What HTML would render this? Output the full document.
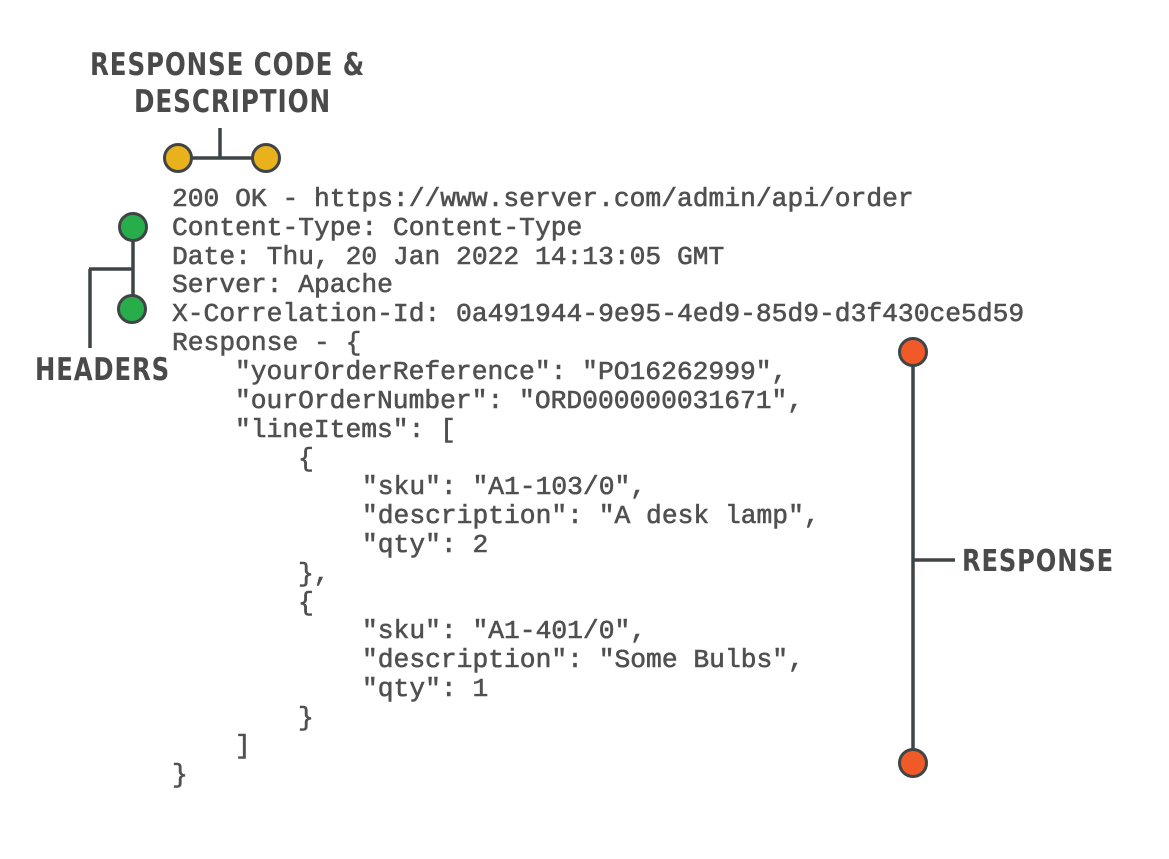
<!DOCTYPE html>
<html><head><meta charset="utf-8"><style>
html,body{margin:0;padding:0;background:#fff;}
svg{display:block;}
.c{font-family:"Liberation Mono","DejaVu Sans Mono",monospace;font-weight:normal;font-size:26.3px;fill:#505050;stroke:#505050;stroke-width:0.6px;}
.l{font-family:"Liberation Sans Narrow","DejaVu Sans Condensed","Liberation Sans",sans-serif;font-weight:bold;fill:#4a4a4a;letter-spacing:1px;}
</style></head><body>
<svg width="1169" height="859" viewBox="0 0 1169 859" xmlns="http://www.w3.org/2000/svg">
<g stroke="#3f4447" stroke-width="3.5" fill="none">
<line x1="220" y1="128" x2="220" y2="158"/>
<line x1="178" y1="158" x2="266" y2="158"/>
<line x1="133" y1="227" x2="133" y2="309"/>
<line x1="89" y1="269" x2="133" y2="269"/>
<line x1="90" y1="269" x2="90" y2="348"/>
<line x1="913" y1="352" x2="913" y2="763"/>
<line x1="913" y1="560" x2="955" y2="560"/>
</g>
<g stroke="#3f4447" stroke-width="3">
<circle cx="178" cy="158" r="13.5" fill="#E9B11C"/>
<circle cx="266" cy="158" r="13.5" fill="#E9B11C"/>
<circle cx="133" cy="227" r="13.5" fill="#27AE4A"/>
<circle cx="132" cy="309" r="13.5" fill="#27AE4A"/>
<circle cx="913" cy="352" r="13.5" fill="#F05A28"/>
<circle cx="913" cy="763" r="13.5" fill="#F05A28"/>
</g>
<text class="l" x="90" y="75" font-size="31" textLength="275" lengthAdjust="spacingAndGlyphs">RESPONSE CODE &amp;</text>
<text class="l" x="134" y="112" font-size="31" textLength="197" lengthAdjust="spacingAndGlyphs">DESCRIPTION</text>
<text class="l" x="35" y="380" font-size="31" textLength="135" lengthAdjust="spacingAndGlyphs">HEADERS</text>
<text class="l" x="962" y="571" font-size="30" textLength="152" lengthAdjust="spacingAndGlyphs">RESPONSE</text>
<g class="c">
<text x="172" y="206">200 OK - https://www.server.com/admin/api/order</text>
<text x="172" y="235">Content-Type: Content-Type</text>
<text x="172" y="264">Date: Thu, 20 Jan 2022 14:13:05 GMT</text>
<text x="172" y="292">Server: Apache</text>
<text x="172" y="321">X-Correlation-Id: 0a491944-9e95-4ed9-85d9-d3f430ce5d59</text>
<text x="172" y="350">Response - {</text>
<text x="235" y="379">"yourOrderReference": "PO16262999",</text>
<text x="235" y="408">"ourOrderNumber": "ORD000000031671",</text>
<text x="235" y="437">"lineItems": [</text>
<text x="298" y="466">{</text>
<text x="362" y="494">"sku": "A1-103/0",</text>
<text x="362" y="523">"description": "A desk lamp",</text>
<text x="362" y="552">"qty": 2</text>
<text x="298" y="581">},</text>
<text x="298" y="610">{</text>
<text x="362" y="638">"sku": "A1-401/0",</text>
<text x="362" y="667">"description": "Some Bulbs",</text>
<text x="362" y="696">"qty": 1</text>
<text x="298" y="725">}</text>
<text x="235" y="753">]</text>
<text x="172" y="782">}</text>
</g>
</svg>
</body></html>
